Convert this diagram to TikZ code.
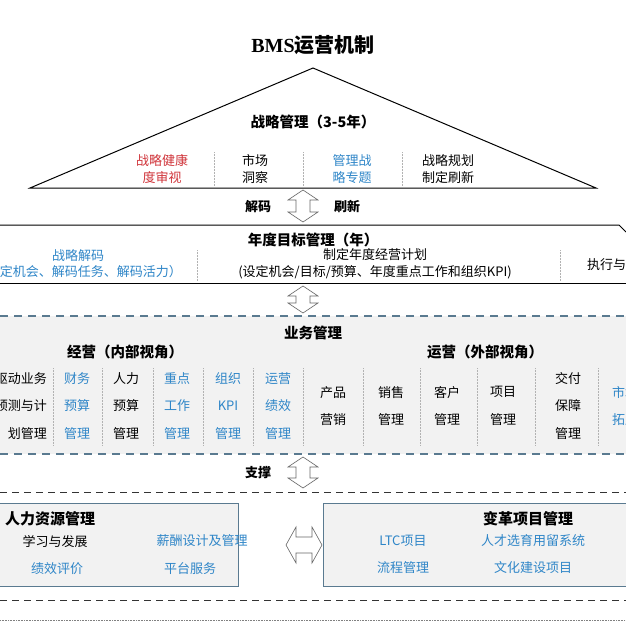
\documentclass[tikz,border=0pt]{standalone}
\usepackage{fontspec}
\setmainfont{Noto Sans CJK SC}
\newfontfamily\serifb{Liberation Serif}
\definecolor{tblue}{HTML}{2F86C8}
\definecolor{tred}{HTML}{D0343A}
\definecolor{dblue}{HTML}{5A7A90}
\definecolor{lgray}{HTML}{F2F2F2}
\newcommand\vdarr[3]{\draw[gray!80!black,fill=white,line width=0.6pt] (#1,#2) -- (#1+15,#2+10) -- (#1+7,#2+10) -- (#1+7,#3-10) -- (#1+15,#3-10) -- (#1,#3) -- (#1-15,#3-10) -- (#1-7,#3-10) -- (#1-7,#2+10) -- (#1-15,#2+10) -- cycle;}
\newcommand\hdarr[3]{\draw[gray!80!black,fill=white,line width=0.6pt] (#1,#3) -- (#1+10,#3-18) -- (#1+10,#3-8) -- (#2-10,#3-8) -- (#2-10,#3-18) -- (#2,#3) -- (#2-10,#3+18) -- (#2-10,#3+8) -- (#1+10,#3+8) -- (#1+10,#3+18) -- cycle;}
\begin{document}
\begin{tikzpicture}[x=1pt,y=-1pt,
  txt/.style={font=\fontsize{13}{17}\selectfont,align=center,inner sep=1pt},
  bt/.style={txt,text=tblue},
  rt/.style={txt,text=tred},
  col/.style={font=\fontsize{13}{27.5}\selectfont,align=center,inner sep=1pt},
  bcol/.style={col,text=tblue},
  hd/.style={font=\fontsize{14.5}{17}\selectfont\bfseries,inner sep=1pt},
  sep/.style={gray!60,densely dotted,line width=0.5pt}]
\useasboundingbox (0,0) rectangle (626,626);
\fill[white] (0,0) rectangle (626,626);
% title
\node (title) at (313,45) {\fontsize{20}{24}\selectfont\bfseries{\serifb BMS}运营机制};
% triangle
\draw[line width=1pt,fill=white] (30,188) -- (313,68) -- (596,188) -- cycle;
\node[hd] (zl) at (313,122) {战略管理（3-5年）};
\node[rt] (t1) at (162,169) {战略健康\\度审视};
\node[txt] (t2) at (255,169) {市场\\洞察};
\node[bt] (t3) at (352,169) {管理战\\略专题};
\node[txt] (t4) at (448,169) {战略规划\\制定刷新};
\foreach \x in {214,303,402} \draw[sep] (\x,152) -- (\x,186);
% arrow 1
\vdarr{303}{190}{222}
\node[hd,font=\fontsize{13}{15}\selectfont\bfseries] (jm) at (258,207) {解码};
\node[hd,font=\fontsize{13}{15}\selectfont\bfseries] (sx) at (347,207) {刷新};
% annual
\fill[white] (0,225) -- (619,225) -- (626,232) -- (626,283) -- (0,283) -- cycle;
\draw[line width=1pt] (0,225) -- (619,225) -- (626,232);
\draw[line width=1pt] (0,283) -- (626,283);
\node[hd] (nd) at (313,240) {年度目标管理（年）};
\node[bt] (a1) at (78,256) {战略解码};
\node[bt,anchor=east] (a2) at (183,272) {（设定机会、解码任务、解码活力）};
\node[txt] (a3) at (375,264) {制定年度经营计划\\(设定机会/目标/预算、年度重点工作和组织KPI)};
\node[txt,anchor=west] (a4) at (586,265) {执行与监控};
\foreach \x in {197,560} \draw[sep] (\x,250) -- (\x,281);
% arrow 2
\vdarr{303}{286}{313}
% business
\fill[lgray] (0,316) rectangle (626,454);
\draw[dblue,line width=1.6pt,dash pattern=on 8pt off 6pt] (0,316) -- (626,316);
\draw[dblue,line width=1.6pt,dash pattern=on 8pt off 6pt] (0,454) -- (626,454);
\node[hd] (yw) at (313,333) {业务管理};
\node[hd] (jy) at (125,352) {经营（内部视角）};
\node[hd] (yy) at (485,352) {运营（外部视角）};
\node[col,anchor=east,align=right] (c0) at (48,406) {驱动业务\\预测与计\\划管理};
\node[bcol] (c1) at (77,406) {财务\\预算\\管理};
\node[col] (c2) at (126,406) {人力\\预算\\管理};
\node[bcol] (c3) at (177,406) {重点\\工作\\管理};
\node[bcol] (c4) at (228,406) {组织\\KPI\\管理};
\node[bcol] (c5) at (278,406) {运营\\绩效\\管理};
\node[col] (c6) at (333,406) {产品\\营销};
\node[col] (c7) at (391,406) {销售\\管理};
\node[col] (c8) at (447,406) {客户\\管理};
\node[col] (c9) at (503,406) {项目\\管理};
\node[col] (c10) at (568,406) {交付\\保障\\管理};
\node[bcol,anchor=west] (c11) at (611,406) {市场\\拓展};
\foreach \x in {53,102,153,203,253,303,363,420,477,535,598} \draw[sep] (\x,368) -- (\x,445);
% arrow 3
\vdarr{303}{457}{488}
\node[font=\fontsize{13}{15}\selectfont\bfseries] (zc) at (258,473) {支撑};
\draw[black!80,line width=1pt,dash pattern=on 7pt off 5pt] (0,492) -- (626,492);
\draw[black!80,line width=1pt,dash pattern=on 7pt off 5pt] (0,600) -- (626,600);
\draw[gray,densely dotted,line width=0.6pt] (0,620) -- (626,620);
% HR box
\node[draw=dblue,fill=lgray,line width=0.6pt,minimum width=240pt,minimum height=83pt,anchor=north west,inner sep=0] (hr) at (-2,503) {};
\node[hd,anchor=west,font=\fontsize{15}{17}\selectfont\bfseries] (hrt) at (4,519) {人力资源管理};
\node[txt] (h1) at (55,542) {学习与发展};
\node[bt] (h2) at (202,541) {薪酬设计及管理};
\node[bt] (h3) at (57,569) {绩效评价};
\node[bt] (h4) at (190,569) {平台服务};
% change box
\node[draw=dblue,fill=lgray,line width=0.6pt,minimum width=306pt,minimum height=83pt,anchor=north west,inner sep=0] (bg) at (323,503) {};
\node[hd,font=\fontsize{15}{17}\selectfont\bfseries] (bgt) at (528,519) {变革项目管理};
\node[bt] (b1) at (403,541) {LTC项目};
\node[bt] (b2) at (533,541) {人才选育用留系统};
\node[bt] (b3) at (403,568) {流程管理};
\node[bt] (b4) at (533,568) {文化建设项目};
\hdarr{286}{322}{545}
\end{tikzpicture}
\end{document}
